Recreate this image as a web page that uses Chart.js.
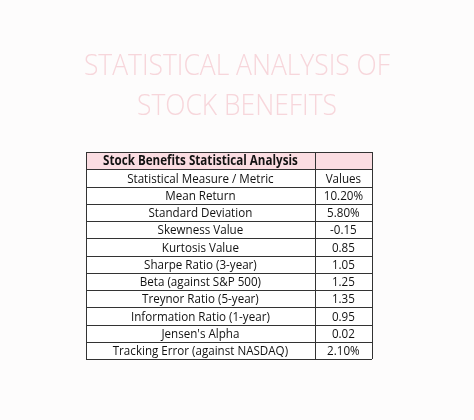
<!DOCTYPE html>
<html><head><meta charset="utf-8">
<script src="https://cdn.jsdelivr.net/npm/chart.js@4"></script>
<style>html,body{margin:0;background:#fdfcfc}#c{display:block}</style>
</head><body>
<div style="width:474px;height:420px"><canvas id="c"></canvas></div>
<script>
const titleLines = ['STATISTICAL ANALYSIS OF', 'STOCK BENEFITS'];
const tableTitle = 'Stock Benefits Statistical Analysis';
const headers = ['Statistical Measure / Metric', 'Values'];
const metrics = ['Mean Return', 'Standard Deviation', 'Skewness Value', 'Kurtosis Value', 'Sharpe Ratio (3-year)',
  'Beta (against S&P 500)', 'Treynor Ratio (5-year)', 'Information Ratio (1-year)', "Jensen's Alpha", 'Tracking Error (against NASDAQ)'];
const values = ['10.20%', '5.80%', '-0.15', '0.85', '1.05', '1.25', '1.35', '0.95', '0.02', '2.10%'];
const rows = ['title', 'header', ...metrics];

// squeeze text horizontally a little, like the narrow original font
function narrowText(ctx, text, x, y, sx) {
  ctx.save(); ctx.translate(x, y); ctx.scale(sx, 1); ctx.fillText(text, 0, 0); ctx.restore();
}

const tablePlugin = {
  id: 'table',
  afterDraw(chart) {
    const ctx = chart.ctx, x = chart.scales.x, y = chart.scales.y;
    const L = x.getPixelForValue(0), R = x.getPixelForValue(1), M = x.getPixelForValue(0.8);
    const h = y.getPixelForValue(1) - y.getPixelForValue(0);
    const top = y.getPixelForValue(0) - h / 2, bot = y.getPixelForValue(rows.length - 1) + h / 2;
    ctx.save();
    ctx.fillStyle = '#f7d6db';
    ctx.textAlign = 'center'; ctx.textBaseline = 'middle';
    ctx.font = '300 30px "Open Sans"';
    narrowText(ctx, titleLines[0], 237, 66, 0.88);
    narrowText(ctx, titleLines[1], 237, 106, 0.88);
    ctx.fillStyle = '#fff';
    ctx.fillRect(L, top, R - L, bot - top);
    ctx.fillStyle = '#fbdde2';
    ctx.fillRect(L, top, R - L, h);
    ctx.strokeStyle = '#333'; ctx.lineWidth = 1;
    rows.forEach((r, i) => {
      const yy = Math.round(y.getPixelForValue(i) - h / 2) + 0.5;
      ctx.beginPath(); ctx.moveTo(L, yy); ctx.lineTo(R, yy); ctx.stroke();
    });
    ctx.beginPath(); ctx.moveTo(L, Math.round(bot) + 0.5); ctx.lineTo(R, Math.round(bot) + 0.5); ctx.stroke();
    [L, M, R].forEach(xx => { ctx.beginPath(); ctx.moveTo(Math.round(xx) + 0.5, top); ctx.lineTo(Math.round(xx) + 0.5, bot); ctx.stroke(); });
    ctx.fillStyle = '#111';
    ctx.font = 'bold 13.5px "Open Sans"';
    narrowText(ctx, tableTitle, (L + M) / 2, y.getPixelForValue(0) + 1, 0.86);
    ctx.font = '13.5px "Open Sans"';
    const cells = [headers, ...metrics.map((m, i) => [m, values[i]])];
    cells.forEach((c, i) => {
      const yy = y.getPixelForValue(i + 1) + 1;
      narrowText(ctx, c[0], (L + M) / 2, yy, 0.86);
      narrowText(ctx, c[1], (M + R) / 2, yy, 0.86);
    });
    ctx.restore();
  }
};

new Chart(document.getElementById('c'), {
  type: 'scatter',
  data: { labels: rows, datasets: [{ data: [] }] },
  options: {
    responsive: true, maintainAspectRatio: false, animation: false,
    layout: { padding: { left: 86, right: 102, top: 152, bottom: 61 } },
    plugins: { legend: { display: false }, tooltip: { enabled: false } },
    scales: {
      x: { type: 'linear', min: 0, max: 1, display: false },
      y: { type: 'category', labels: rows, offset: true, display: false }
    }
  },
  plugins: [tablePlugin]
});
</script>
</body></html>
